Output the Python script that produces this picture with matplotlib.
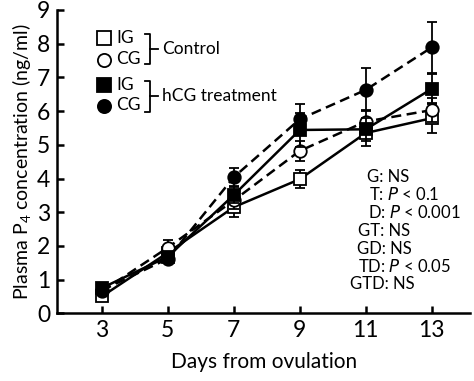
import matplotlib
matplotlib.use("Agg")
import matplotlib.pyplot as plt
from matplotlib.lines import Line2D

plt.rcParams['font.family'] = ['Lato', 'DejaVu Sans']
plt.rcParams['mathtext.default'] = 'regular'

days = [3, 5, 7, 9, 11, 13]
ctrl_ig = [0.50, 1.80, 3.15, 3.98, 5.35, 5.79]
ctrl_ig_err = [0.08, 0.15, 0.30, 0.27, 0.40, 0.45]
ctrl_cg = [0.65, 1.95, 3.35, 4.82, 5.69, 6.03]
ctrl_cg_err = [0.08, 0.22, 0.25, 0.30, 0.35, 0.35]
hcg_ig = [0.75, 1.68, 3.51, 5.44, 5.46, 6.66]
hcg_ig_err = [0.08, 0.12, 0.25, 0.50, 0.35, 0.45]
hcg_cg = [0.68, 1.62, 4.04, 5.76, 6.63, 7.89]
hcg_cg_err = [0.08, 0.12, 0.27, 0.45, 0.64, 0.76]

stats_lines = ["G: NS", "T: $\\it{P}$ < 0.1", "D: $\\it{P}$ < 0.001", "GT: NS",
               "GD: NS", "TD: $\\it{P}$ < 0.05", "GTD: NS"]

W, H = 474, 381
fig = plt.figure(figsize=(W / 100, H / 100), dpi=100)
ax = fig.add_axes([57.3 / W, (H - 313.3) / H, (470 - 57.3) / W, (313.3 - 10) / H])


def fx(px):
    return px / W


def fy(py):
    return (H - py) / H


lw = 1.8
dash = (4, 2.2)
series = [
    (ctrl_ig, ctrl_ig_err, 's', 'white', '-'),
    (ctrl_cg, ctrl_cg_err, 'o', 'white', '--'),
    (hcg_ig, hcg_ig_err, 's', 'black', '-'),
    (hcg_cg, hcg_cg_err, 'o', 'black', '--'),
]
for i, (vals, errs, m, fc, ls) in enumerate(series):
    ax.errorbar(days, vals, yerr=errs, fmt='none', ecolor='black',
                elinewidth=1.3, capsize=3.5, capthick=1.3, zorder=2 + i)
    line, = ax.plot(days, vals, color='black', lw=lw, linestyle=ls,
                    marker=m, markersize=8.5 if m == 's' else 9,
                    markerfacecolor=fc, markeredgecolor='black',
                    markeredgewidth=1.3, zorder=3 + i, clip_on=False)
    if ls == '--':
        line.set_dashes(dash)

ax.set_xlim(1.65, 14.16)
ax.set_ylim(0, 9)
ax.set_xticks(days)
ax.set_yticks(range(0, 10))
ax.spines['top'].set_visible(False)
ax.spines['right'].set_visible(False)
for s in ['left', 'bottom']:
    ax.spines[s].set_linewidth(1.8)
ax.tick_params(direction='in', length=5, width=1.8, labelsize=16.5, pad=5)
ax.set_xlabel("Days from ovulation", fontsize=15, labelpad=8)
ax.set_ylabel("Plasma P$_4$ concentration (ng/ml)", fontsize=14, labelpad=3)

# custom legend
mk = [(38.3, 's', 'white', 'IG'), (59.5, 'o', 'white', 'CG'),
      (85, 's', 'black', 'IG'), (105.5, 'o', 'black', 'CG')]
for py, m, fc, lab in mk:
    fig.add_artist(Line2D([fx(104)], [fy(py)], marker=m, markersize=9.5,
                          markerfacecolor=fc, markeredgecolor='black',
                          markeredgewidth=1.3, linestyle='none'))
    fig.text(fx(116), fy(py), lab, fontsize=12.5, va='center', ha='left')

for (top, bot, lab) in [(34, 64, "Control"), (81, 111.5, "hCG treatment")]:
    mid = (top + bot) / 2
    xs = [fx(145), fx(149.5), fx(149.5), fx(145)]
    ys = [fy(top), fy(top), fy(bot), fy(bot)]
    fig.add_artist(Line2D(xs, ys, color='black', lw=1.3))
    fig.add_artist(Line2D([fx(149.5), fx(158)], [fy(mid), fy(mid)], color='black', lw=1.3))
    fig.text(fx(162), fy(mid), lab, fontsize=12.5, va='center', ha='left')

# stats text
stats_x = [366.7, 369, 368, 358, 356.7, 358, 350]
stats_y = [176.7, 195, 212.7, 230.7, 248.5, 266, 284]
for t, px, py in zip(stats_lines, stats_x, stats_y):
    fig.text(fx(px), fy(py), t, fontsize=12, va='center', ha='left')

fig.savefig("out.png", dpi=100)
